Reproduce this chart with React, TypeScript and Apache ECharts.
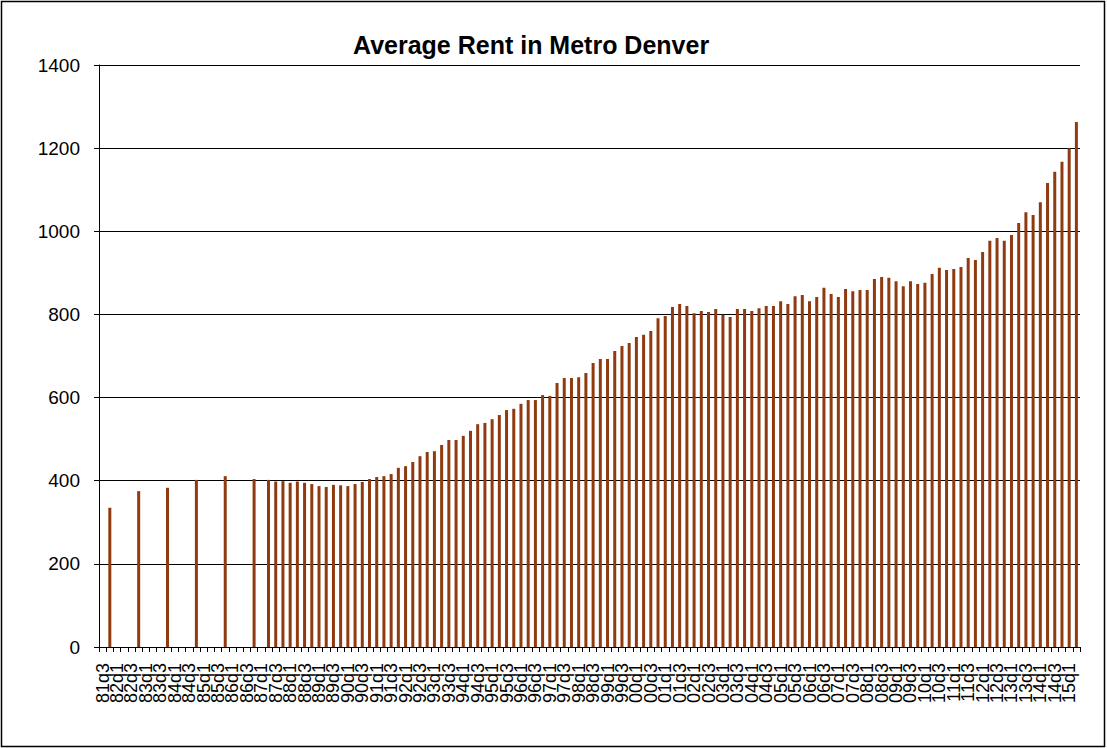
import React, { useEffect, useRef } from 'react';
import * as echarts from 'echarts';

// quarterly survey periods, 81q3 .. 15q2
const quarters: string[] = [
  '81q3', '81q4',
  '82q1', '82q2', '82q3', '82q4', '83q1', '83q2', '83q3', '83q4',
  '84q1', '84q2', '84q3', '84q4', '85q1', '85q2', '85q3', '85q4',
  '86q1', '86q2', '86q3', '86q4', '87q1', '87q2', '87q3', '87q4',
  '88q1', '88q2', '88q3', '88q4', '89q1', '89q2', '89q3', '89q4',
  '90q1', '90q2', '90q3', '90q4', '91q1', '91q2', '91q3', '91q4',
  '92q1', '92q2', '92q3', '92q4', '93q1', '93q2', '93q3', '93q4',
  '94q1', '94q2', '94q3', '94q4', '95q1', '95q2', '95q3', '95q4',
  '96q1', '96q2', '96q3', '96q4', '97q1', '97q2', '97q3', '97q4',
  '98q1', '98q2', '98q3', '98q4', '99q1', '99q2', '99q3', '99q4',
  '00q1', '00q2', '00q3', '00q4', '01q1', '01q2', '01q3', '01q4',
  '02q1', '02q2', '02q3', '02q4', '03q1', '03q2', '03q3', '03q4',
  '04q1', '04q2', '04q3', '04q4', '05q1', '05q2', '05q3', '05q4',
  '06q1', '06q2', '06q3', '06q4', '07q1', '07q2', '07q3', '07q4',
  '08q1', '08q2', '08q3', '08q4', '09q1', '09q2', '09q3', '09q4',
  '10q1', '10q2', '10q3', '10q4', '11q1', '11q2', '11q3', '11q4',
  '12q1', '12q2', '12q3', '12q4', '13q1', '13q2', '13q3', '13q4',
  '14q1', '14q2', '14q3', '14q4', '15q1', '15q2'
];

// average rent, $ (null = no survey that quarter)
const rents: (number | null)[] = [
  null, 335,
  null, null, null, 375, null, null, null, 383,
  null, null, null, 402, null, null, null, 411,
  null, null, null, 404, null, 402, 398, 399,
  395, 398, 395, 392, 387, 385, 390, 389,
  387, 392, 397, 404, 409, 411, 416, 431,
  435, 445, 459, 469, 471, 486, 498, 498,
  508, 520, 536, 539, 548, 558, 570, 573,
  585, 594, 594, 606, 604, 635, 647, 647,
  649, 659, 683, 693, 693, 712, 724, 731,
  746, 751, 760, 791, 796, 818, 825, 820,
  803, 808, 806, 813, 799, 794, 813, 813,
  808, 815, 820, 820, 832, 825, 844, 847,
  832, 842, 864, 849, 842, 861, 856, 859,
  859, 885, 890, 888, 880, 868, 880, 873,
  876, 897, 912, 907, 909, 914, 936, 931,
  950, 977, 984, 977, 991, 1020, 1046, 1039,
  1070, 1116, 1143, 1167, 1200, 1263
];

const yMin = 0;
const yMax = 1400;
const yStep = 200;

const FONT = '"Liberation Sans", Arial, sans-serif';

const App: React.FC = () => {
  const chartRef = useRef<HTMLDivElement>(null);

  useEffect(() => {
    if (!chartRef.current) return;
    const chart = echarts.init(chartRef.current, null, { renderer: 'svg' });

    const option: echarts.EChartsOption = {
      animation: false,
      backgroundColor: '#fff',
      title: {
        text: 'Average Rent in Metro Denver',
        left: 348,
        top: 27,
        textStyle: {
          fontFamily: FONT,
          fontSize: 25,
          fontWeight: 'bold',
          color: '#000'
        }
      },
      graphic: [
        {
          type: 'rect',
          shape: { x: 1.5, y: 1.5, width: 1103, height: 745 },
          style: { fill: 'none', stroke: '#000', lineWidth: 1.5 },
          silent: true
        }
      ],
      grid: {
        left: 99,
        right: 27,
        top: 65,
        bottom: 101,
        containLabel: false
      },
      xAxis: {
        type: 'category',
        data: quarters,
        boundaryGap: true,
        axisLine: { show: true, lineStyle: { color: '#000', width: 1 } },
        axisTick: {
          show: true,
          interval: 0,
          length: 5,
          lineStyle: { color: '#000', width: 1 }
        },
        axisLabel: {
          interval: 0,
          showMinLabel: true,
          // label every other quarter, starting with 81q3
          formatter: (value: string, index: number) => (index % 2 === 0 ? value : ''),
          rotate: 90,
          margin: 16,
          color: '#000',
          fontFamily: FONT,
          fontSize: 18
        },
        splitLine: { show: false }
      },
      yAxis: {
        type: 'value',
        min: yMin,
        max: yMax,
        interval: yStep,
        axisLine: { show: true, lineStyle: { color: '#000', width: 1 } },
        axisTick: { show: true, length: 5, lineStyle: { color: '#000', width: 1 } },
        axisLabel: {
          margin: 19,
          color: '#000',
          fontFamily: FONT,
          fontSize: 19,
          formatter: (v: number) => String(v)
        },
        splitLine: { show: true, lineStyle: { color: '#000', width: 1 } }
      },
      series: [
        {
          type: 'bar',
          data: rents,
          barWidth: 3,
          itemStyle: { color: '#8f3a10' }
        }
      ]
    };

    chart.setOption(option, true);

    return () => {
      chart.dispose();
    };
  }, []);

  return (
    <div
      ref={chartRef}
      style={{ position: 'absolute', left: 0, top: 0, width: '1107px', height: '748px' }}
    />
  );
};

export default App;
